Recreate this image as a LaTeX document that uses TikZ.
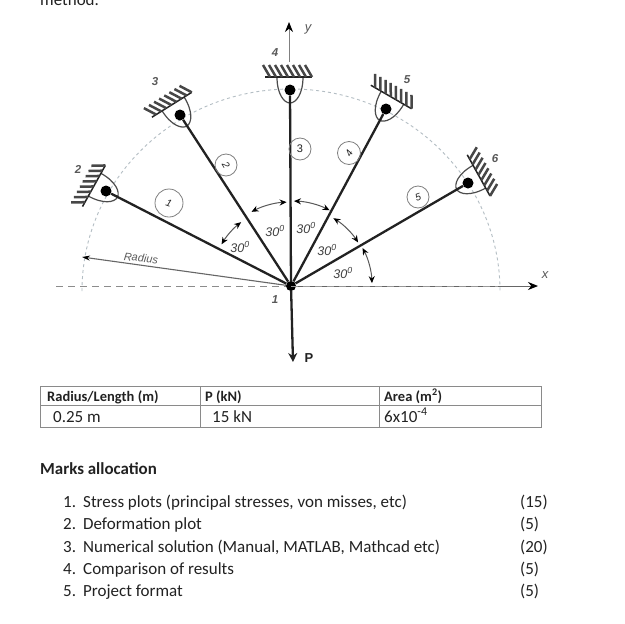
\documentclass[tikz,border=0pt]{standalone}
\usepackage{fontspec}
\setmainfont{Carlito}
\newfontfamily\arialf{Liberation Sans}
\usetikzlibrary{arrows.meta}
\definecolor{ink}{HTML}{222222}
\definecolor{tgrey}{HTML}{8A8A8A}
\definecolor{dashc}{HTML}{B4BEC4}
\newcommand{\zerosup}{\textsuperscript{0}}
\tikzset{
  x=1pt,y=-1pt,
  member/.style={line width=2.3pt,draw=ink},
  pinnode/.style={circle,fill=black,inner sep=0pt,minimum size=11pt},
  hub/.style={circle,fill=black,inner sep=0pt,minimum size=10pt},
  numcirc/.style={circle,draw=black!50,line width=0.8pt,inner sep=0pt,font=\arialf\fontsize{10}{10}\selectfont\itshape,text=ink},
  dimtext/.style={font=\arialf\bfseries\fontsize{11.5}{12}\selectfont\itshape,text=black!65,inner sep=0pt},
  angletext/.style={font=\arialf\fontsize{12.5}{12}\selectfont\itshape,text=black!75,inner sep=0pt},
  doctext/.style={font=\fontsize{17}{17}\selectfont,text=ink,inner sep=0pt,anchor=base west},
  cellbold/.style={font=\bfseries\fontsize{14.5}{15}\selectfont,text=ink,inner sep=0pt,anchor=base west},
  celltext/.style={font=\fontsize{17}{17}\selectfont,text=ink,inner sep=0pt,anchor=base west},
  arcline/.style={draw=black!65,line width=1pt,{Stealth[length=7pt,width=6pt,black]}-{Stealth[length=7pt,width=6pt,black]}},
  tableline/.style={draw=tgrey,line width=1pt},
  support/.pic={
    \draw[line width=1.2pt,draw=black!70] (-13,-13) .. controls (-13,4) and (-6,13) .. (0,13) .. controls (6,13) and (13,4) .. (13,-13);
    \draw[line width=1.5pt,draw=ink] (-25,-13) -- (22,-13);
    \foreach \k in {-20,-14,...,24}{\draw[line width=2.5pt,draw=black!72] (\k,-13) -- (\k-7,-25);}
  }
}
\begin{document}
\begin{tikzpicture}
\useasboundingbox (0,0) rectangle (624,624);
\fill[white] (0,0) rectangle (624,624);

% radius circle
\draw[dashc,line width=0.9pt,dash pattern=on 3pt off 3pt] (291,291) ++(-180:209) arc[start angle=-180,end angle=0,x radius=209,y radius=202];
\draw[black!45,line width=1pt,dash pattern=on 7pt off 5pt] (56,286) -- (291,286);

% axes
\coordinate (xend) at (538,286);
\coordinate (yend) at (289,22);
\coordinate (ybase) at (289,62);
\coordinate (pend) at (293,362);
\coordinate (radend) at (82,257);
\node[hub] (c) at (291,286) {};
\draw[black!60,line width=1pt,-{Stealth[length=10pt,width=8pt,black]}] (c) -- (xend);
\draw[black!40,line width=1pt,dash pattern=on 7pt off 5pt] (291,286) -- (498,286);
\draw[black!50,line width=1pt,-{Stealth[length=10pt,width=8pt,black]}] (ybase) -- (yend);
\draw[line width=2.3pt,draw=ink,-{Stealth[length=9pt,width=9pt]}] (c) -- (pend);
\draw[black!60,line width=1.1pt,-{Stealth[length=8pt,width=5pt,black]}] (c) -- (radend);

% pins and supports
\node[pinnode] (n2) at (106,191) {};
\node[pinnode] (n3) at (180,115) {};
\node[pinnode] (n4) at (290,90) {};
\node[pinnode] (n5) at (386,109) {};
\node[pinnode] (n6) at (468,183) {};
\pic[rotate=61] at (n2) {support};
\pic[rotate=32] at (n3) {support};
\pic at (n4) {support};
\pic[rotate=-30] at (n5) {support};
\pic[rotate=-61] at (n6) {support};

% members
\draw[member] (c) -- (n2);
\draw[member] (c) -- (n3);
\draw[member] (c) -- (n4);
\draw[member] (c) -- (n5);
\draw[member] (c) -- (n6);

% member numbers
\node[numcirc,minimum size=28pt] (m1) at (169,203) {\rotatebox{-20}{1}};
\node[numcirc,minimum size=22pt] (m2) at (226,165) {\rotatebox{-60}{2}};
\node[numcirc,minimum size=22pt,font=\arialf\fontsize{11}{11}\selectfont] (m3) at (300,149) {3};
\node[numcirc,minimum size=23pt] (m4) at (349,153) {\rotatebox{60}{4}};
\node[numcirc,minimum size=22pt] (m5) at (418,197) {\rotatebox{20}{5}};

% angle arcs
\foreach \a/\b/\r in {2/28/81, 33/58/80, 63/88/85, 93/118/84, 128/149/81}{
  \draw[arcline] (c.center) ++(-\a:\r) arc[start angle=-\a,end angle=-\b,radius=\r];
}

% labels
\node[dimtext] (l2) at (78,169) {2};
\node[dimtext] (l3) at (155,82) {3};
\node[dimtext] (l4) at (275,53) {4};
\node[dimtext] (l5) at (407,80) {5};
\node[dimtext] (l6) at (495,159) {6};
\node[dimtext] (l1) at (275,300) {1};
\node[dimtext,font=\arialf\fontsize{13}{13}\selectfont\itshape] (ly) at (308,29) {y};
\node[dimtext,font=\arialf\fontsize{13}{13}\selectfont\itshape] (lx) at (545,275) {x};
\node[font=\arialf\bfseries\fontsize{13}{13}\selectfont,text=ink,inner sep=0pt] (lp) at (309,358) {P};
\node[dimtext,rotate=-6,font=\arialf\fontsize{11}{11}\selectfont\itshape] (lr) at (141,258) {Radius};
\node[angletext] (a1) at (240,247) {30\zerosup};
\node[angletext] (a2) at (275,231) {30\zerosup};
\node[angletext] (a3) at (306,228) {30\zerosup};
\node[angletext] (a4) at (327,250) {30\zerosup};
\node[angletext] (a5) at (343,273) {30\zerosup};

% top cut-off text
\node[doctext] (top) at (40,5) {method.};

% table
\draw[tableline] (40,386) rectangle (541,427);
\draw[tableline] (40,405) -- (541,405);
\draw[tableline] (200,386) -- (200,427);
\draw[tableline] (379,386) -- (379,427);
\node[cellbold] (h1) at (47,401) {Radius/Length (m)};
\node[cellbold] (h2) at (205,401) {P (kN)};
\node[cellbold] (h3) at (384,401) {Area (m\textsuperscript{2})};
\node[celltext] (c1) at (53,422) {0.25 m};
\node[celltext] (c2) at (212,422) {15 kN};
\node[celltext] (c3) at (384,422) {6x10\textsuperscript{-4}};

% marks
\node[doctext,font=\bfseries\fontsize{16.9}{17}\selectfont] (mh) at (40,474) {Marks allocation};
\foreach \n/\y/\t/\m in {
  1/507/{Stress plots (principal stresses, von misses, etc)}/(15),
  2/529/{Deformation plot}/(5),
  3/552/{Numerical solution (Manual, MATLAB, Mathcad etc)}/(20),
  4/574/{Comparison of results}/(5),
  5/596/{Project format}/(5)}{
  \node[doctext] (num\n) at (63,\y) {\n.};
  \node[doctext] (txt\n) at (83,\y) {\t};
  \node[doctext] (mk\n) at (520,\y) {\m};
}
\end{tikzpicture}
\end{document}
